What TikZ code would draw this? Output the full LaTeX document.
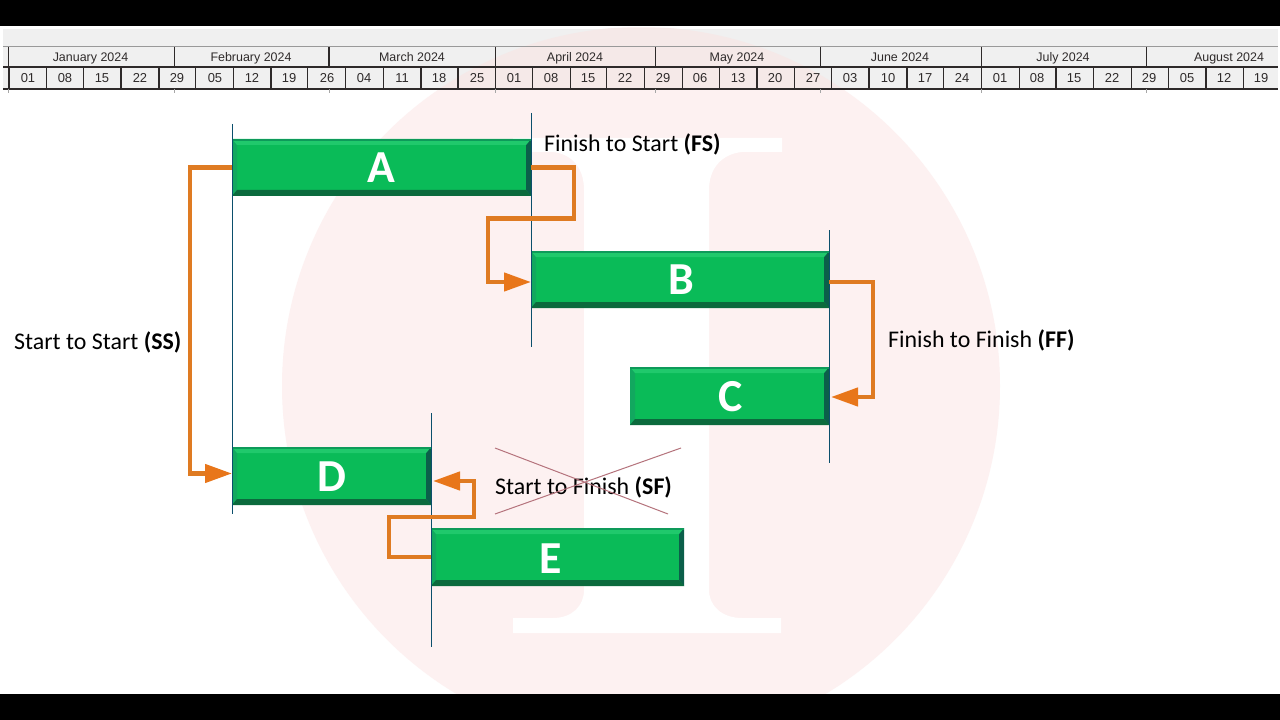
\documentclass[tikz,border=0pt]{standalone}
\usepackage{fontspec}
\setmainfont{Carlito}
\newfontfamily\hdrfont{Liberation Sans}
\usetikzlibrary{arrows.meta}
\definecolor{wmpink}{HTML}{FDF1F1}
\definecolor{hdrgray}{HTML}{F0F0F0}
\definecolor{hdrpink}{HTML}{F5E9E8}
\definecolor{hdrline}{HTML}{2E2A2A}
\definecolor{orangeconn}{HTML}{DF7B22}
\definecolor{orangehead}{HTML}{E8761A}
\definecolor{barmain}{HTML}{0ABB58}
\definecolor{bartop}{HTML}{20C96C}
\definecolor{baredge}{HTML}{0E9A5A}
\definecolor{barbottom}{HTML}{0B6A3D}
\definecolor{barright}{HTML}{0B5F4A}
\definecolor{barleft}{HTML}{12A85F}
\definecolor{guide}{HTML}{0B4F6C}
\definecolor{crossline}{HTML}{B5737C}
\tikzset{
  lagconn/.style={draw=orangeconn,line width=4.4bp,line join=miter,
    -{Triangle[length=27bp,width=18bp,color=orangehead]}},
  guideline/.style={draw=guide,line width=1bp},
  crossout/.style={draw=crossline,line width=1bp},
  barletter/.style={text=white,font=\fontsize{46}{48}\selectfont\bfseries,inner sep=0pt},
  lagtext/.style={text=black,font=\fontsize{24}{26}\selectfont,inner sep=0pt,anchor=west},
  monthtext/.style={text=hdrline,font=\hdrfont\fontsize{12.5}{14}\selectfont,inner sep=0pt,anchor=base},
  weektext/.style={text=hdrline,font=\hdrfont\fontsize{13}{14}\selectfont,inner sep=0pt,anchor=base},
  hline/.style={draw=hdrline,line width=1.1bp},
  hlinelight/.style={draw=black!40,line width=1bp}
}
% name, x1, y1, x2, y2, letter, letter x, letter y
\newcommand{\ganttbar}[8]{%
  \fill[barmain] (#2,#3) rectangle (#4,#5);
  \fill[barleft] (#2,#3) -- (#2+5,#3+6) -- (#2+5,#5-6) -- (#2,#5) -- cycle;
  \fill[barright] (#4,#3) -- (#4-5,#3+6) -- (#4-5,#5-6) -- (#4,#5) -- cycle;
  \fill[bartop] (#2,#3) -- (#4,#3) -- (#4-5,#3+6) -- (#2+5,#3+6) -- cycle;
  \fill[baredge] (#2,#3) rectangle (#4,#3+2);
  \fill[barbottom] (#2,#5) -- (#4,#5) -- (#4-5,#5-6) -- (#2+5,#5-6) -- cycle;
  \node[minimum width={(#4-#2)*1bp},minimum height={(#5-#3)*1bp},inner sep=0pt,outer sep=0pt,anchor=north west] (#1) at (#2,#3) {};
  \node[barletter] (#1letter) at (#7,#8) {#6};
}
\begin{document}
\begin{tikzpicture}[x=1bp,y=-1bp]
\useasboundingbox (0,0) rectangle (1280,720);
\fill[white] (0,0) rectangle (1280,720);
% watermark
\fill[wmpink] (641,386) circle [radius=359];
\fill[white] (513,138) -- (782,138) -- (782,152) -- (742,152)
  .. controls (722,154) and (709,168) .. (709,190)
  -- (709,590) .. controls (709,606) and (722,618) .. (742,618)
  -- (781,618) -- (781,633) -- (513,633) -- (513,618) -- (553,618)
  .. controls (572,618) and (584,606) .. (584,590)
  -- (584,190) .. controls (584,168) and (572,154) .. (553,152)
  -- (513,152) -- cycle;
% timescale background
\fill[hdrgray] (3,29) rectangle (1278,89);
\begin{scope}
  \clip (3,29) rectangle (1278,89);
  \fill[hdrpink] (641,386) circle [radius=359];
\end{scope}
\draw[hlinelight] (3,47) -- (1278,47);
\draw[hline] (3,67) -- (1278,67);
\draw[hline] (3,89) -- (1278,89);
\foreach \mx in {8.7,174.5,329,495.7,655.3,820.3,981.3,1146.3}{
  \draw[hline] (\mx,47) -- (\mx,67);
  \draw[draw=black!35,line width=.8bp] (\mx,89) -- (\mx,93);
}
\foreach \wx in {9,46.7,83.5,121,159,195.7,233.7,271,307.7,345.7,383.3,421,458,495.7,532.3,570.3,606.7,644.7,682.3,719.3,757,794.7,831.7,869,907,943.7,981.3,1019.3,1056,1093.7,1131.7,1168.3,1206,1243.3}{
  \draw[hline] (\wx,67) -- (\wx,89);
}
\foreach \cx/\mt [count=\i] in {90.5/January 2024,251/February 2024,412/March 2024,575/April 2024,737/May 2024,900/June 2024,1063/July 2024,1229/August 2024}{
  \node[monthtext] (month\i) at (\cx,61.5) {\mt};
}
\foreach \cx/\wt [count=\i] in {28/01,65/08,102/15,140/22,177/29,215/05,252/12,289/19,327/26,364/04,402/11,439/18,477/25,514/01,551/08,588/15,625/22,663/29,700/06,738/13,775/20,813/27,850/03,888/10,925/17,962/24,1000/01,1037/08,1074/15,1112/22,1149/29,1187/05,1224/12,1261/19}{
  \node[weektext] (week\i) at (\cx,82.5) {\wt};
}
% bars
\ganttbar{barA}{232}{139}{531}{196}{A}{381}{168}
\ganttbar{barB}{531}{251}{829}{308}{B}{681}{280}
\ganttbar{barC}{630}{367}{829}{425}{C}{731}{397}
\ganttbar{barD}{232}{447}{431}{505}{D}{332}{477}
\ganttbar{barE}{431}{528}{684}{586}{E}{551}{559}
% guide lines
\coordinate (gA1) at (232,124); \coordinate (gA2) at (232,514);
\coordinate (gB1) at (531.5,113); \coordinate (gB2) at (531.5,347);
\coordinate (gC1) at (829.5,230); \coordinate (gC2) at (829.5,463);
\coordinate (gD1) at (431.5,413); \coordinate (gD2) at (431.5,647);
\draw[guideline] (gA1) -- (gA2);
\draw[guideline] (gB1) -- (gB2);
\draw[guideline] (gC1) -- (gC2);
\draw[guideline] (gD1) -- (gD2);
% connectors
\draw[lagconn] (barA.west) -- ++(-42,0) |- ([yshift=2.5bp]barD.west);
\draw[lagconn] (barA.east) -- ++(43,0) -- ++(0,51) -- ++(-86,0) |- ([yshift=-2.5bp]barB.west);
\draw[lagconn] ([yshift=-2.5bp]barB.east) -- ++(44,0) |- ([xshift=2bp,yshift=-1bp]barC.east);
\draw[lagconn] (barE.west) -- ++(-42,0) -- ++(0,-40) -- ++(85,0) |- ([xshift=2bp,yshift=-5bp]barD.east);
% labels
\node[lagtext] (lblSS) at (14,342) {Start to Start \textbf{(SS)}};
\node[lagtext] (lblFS) at (544,144) {Finish to Start \textbf{(FS)}};
\node[lagtext] (lblFF) at (888,340) {Finish to Finish \textbf{(FF)}};
\node[lagtext] (lblSF) at (495,487) {Start to Finish \textbf{(SF)}};
% cross
\coordinate (crossA1) at (495,448); \coordinate (crossA2) at (668,514);
\coordinate (crossB1) at (495,514); \coordinate (crossB2) at (681,448);
\draw[crossout] (crossA1) -- (crossA2);
\draw[crossout] (crossB1) -- (crossB2);
% black bands
\fill[black] (0,0) rectangle (1280,26);
\fill[black] (0,694) rectangle (1280,720);
\end{tikzpicture}
\end{document}
